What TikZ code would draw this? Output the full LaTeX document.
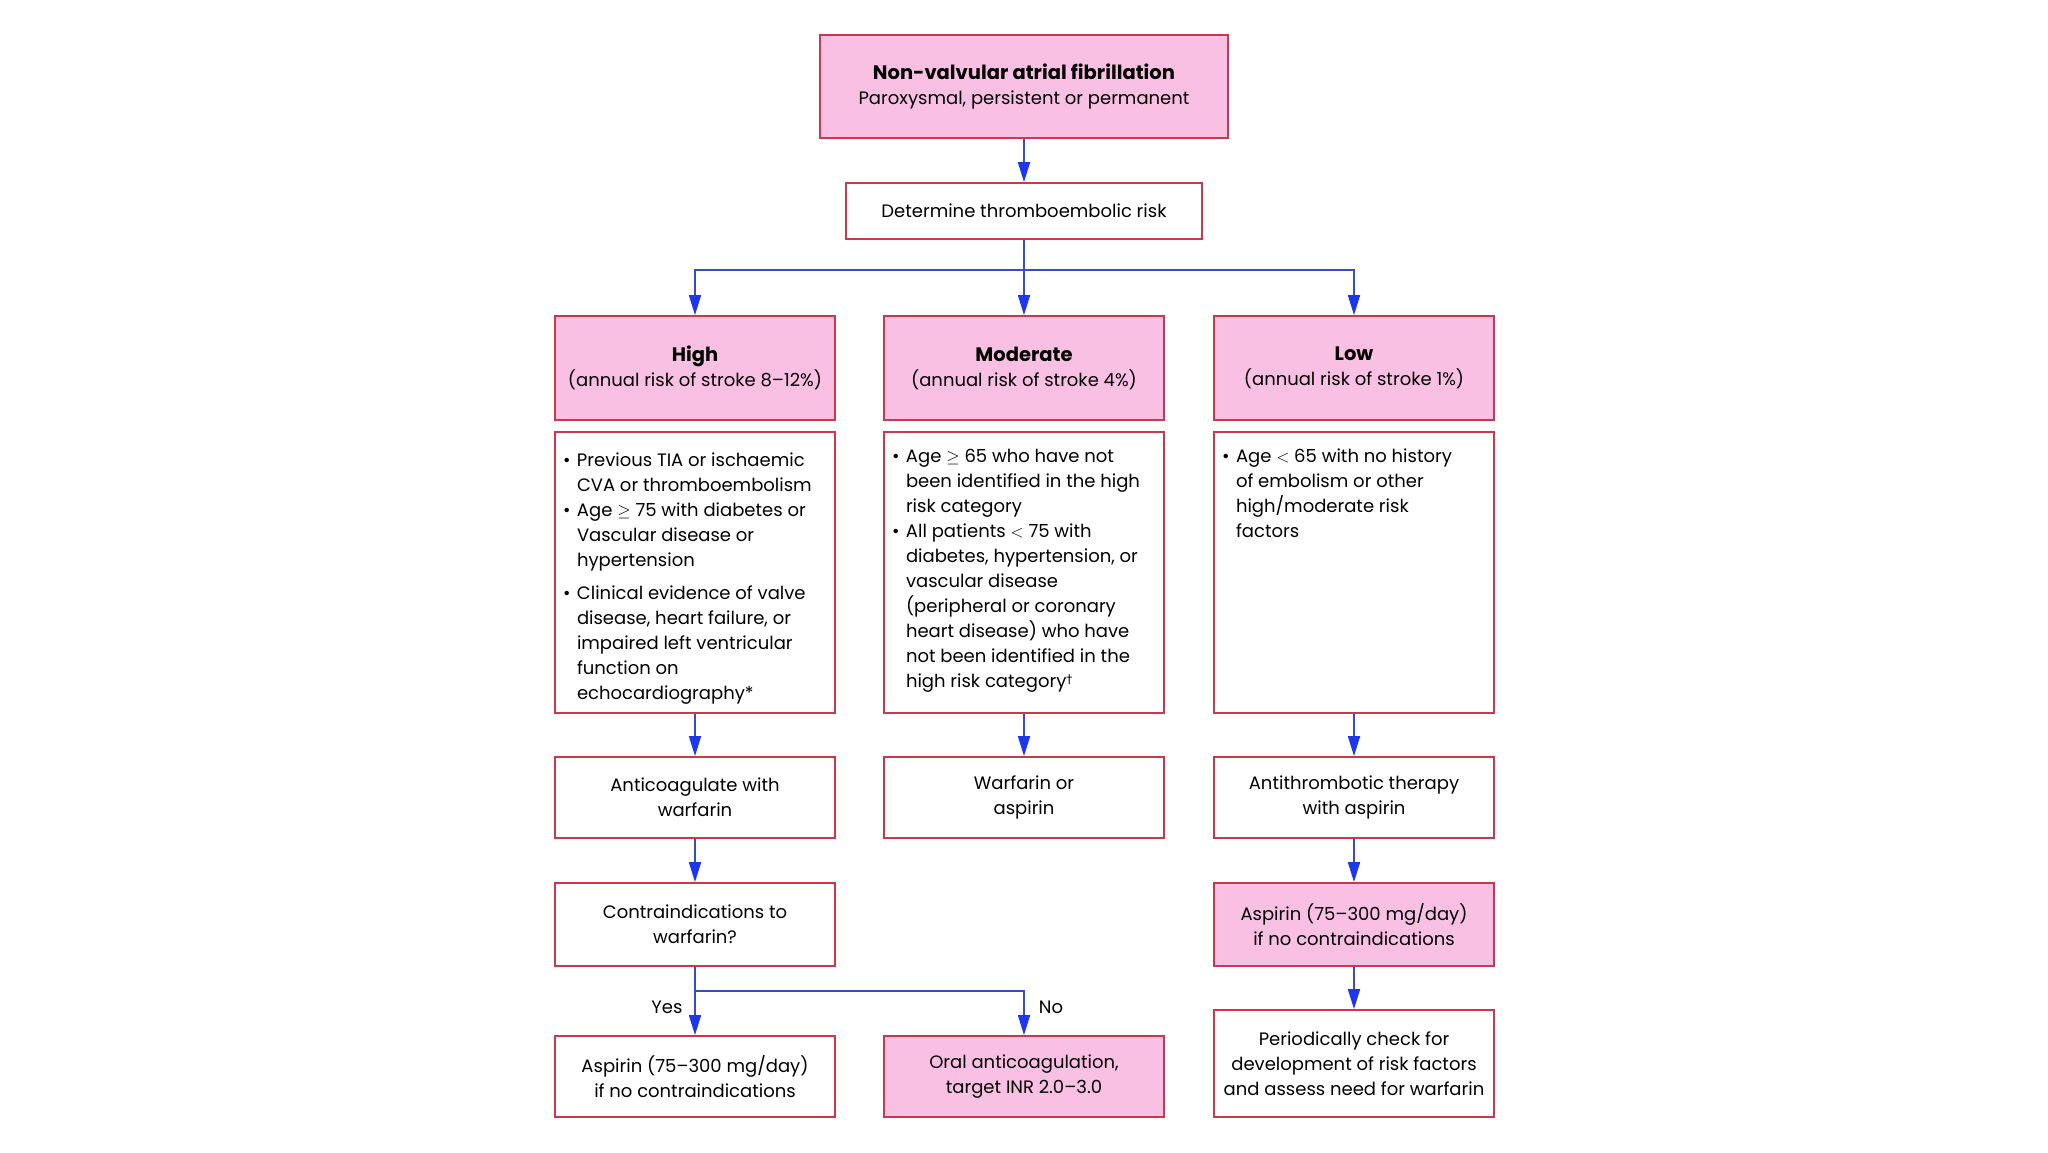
\documentclass[tikz,border=0pt]{standalone}
\usepackage{fontspec}
\setmainfont{Poppins}
\newfontfamily\dejavu{DejaVu Sans}
\usetikzlibrary{arrows.meta}
\definecolor{pinkfill}{RGB}{250,192,228}
\definecolor{bordred}{RGB}{205,55,75}
\definecolor{linblue}{RGB}{55,75,205}
\definecolor{tipblue}{RGB}{30,55,235}
\newcommand{\bitem}[1]{\par\hangindent=14pt\hangafter=1\noindent\makebox[14pt][l]{\textbullet}#1}
\newcommand{\firstline}[1]{\rule{0pt}{#1}}
\newcommand{\dagmark}{\raisebox{4pt}{\dejavu\fontsize{12}{12}\selectfont †}}
\begin{document}
\begin{tikzpicture}[x=1pt,y=-1pt,
  box/.style={draw=bordred,line width=1.8pt,fill=white,rectangle,align=center,inner sep=0pt,font=\fontsize{18}{25}\selectfont},
  pbox/.style={box,fill=pinkfill},
  listbox/.style={box,inner xsep=8pt,inner ysep=8pt},
  arr/.style={draw=linblue,line width=1.8pt,-{Triangle[width=12pt,length=20pt,color=tipblue]}},
  lin/.style={draw=linblue,line width=1.8pt},
  lbl/.style={font=\fontsize{18}{25}\selectfont,inner sep=0pt}]
\useasboundingbox (0,0) rectangle (2048,1152);

\node[pbox,minimum width=408pt,minimum height=103pt] (top) at (1024,86.5)
  {{\fontsize{19.5}{25}\selectfont\bfseries Non-valvular atrial fibrillation}\\Paroxysmal, persistent or permanent};
\node[box,minimum width=356pt,minimum height=56pt] (det) at (1024,211) {Determine thromboembolic risk};

\node[pbox,minimum width=280pt,minimum height=104pt] (high) at (695,368)
  {{\fontsize{19.5}{25}\selectfont\bfseries High}\\(annual risk of stroke 8–12\%)};
\node[pbox,minimum width=280pt,minimum height=104pt] (mod) at (1024,368)
  {{\fontsize{19.5}{25}\selectfont\bfseries Moderate}\\(annual risk of stroke 4\%)};
\node[pbox,minimum width=280pt,minimum height=104pt] (low) at (1354,368)
  {{\fontsize{19.5}{25}\selectfont\bfseries Low}\\(annual risk of stroke 1\%)};

\node[listbox] (hlist) at (695,572.5) {\parbox[c][265pt][t]{264pt}{%
  \bitem{\firstline{26pt}Previous TIA or ischaemic\newline CVA or thromboembolism}
  \bitem{Age $\geq$ 75 with diabetes or\newline Vascular disease or\newline hypertension}
  \par\vspace{8pt}%
  \bitem{Clinical evidence of valve\newline disease, heart failure, or\newline impaired left ventricular\newline function on\newline echocardiography*}\par}};
\node[listbox] (mlist) at (1024,572.5) {\parbox[c][265pt][t]{264pt}{%
  \bitem{\firstline{22pt}Age $\geq$ 65 who have not\newline been identified in the high\newline risk category}
  \bitem{All patients $<$ 75 with\newline diabetes, hypertension, or\newline vascular disease\newline (peripheral or coronary\newline heart disease) who have\newline not been identified in the\newline high risk category\dagmark}\par}};
\node[listbox] (llist) at (1354,572.5) {\parbox[c][265pt][t]{264pt}{%
  \bitem{\firstline{22pt}Age $<$ 65 with no history\newline of embolism or other\newline high/moderate risk\newline factors}\par}};

\node[box,minimum width=280pt,minimum height=81pt] (hrow3) at (695,797.5) {Anticoagulate with\\warfarin};
\node[box,minimum width=280pt,minimum height=81pt] (mrow3) at (1024,797.5) {Warfarin or\\aspirin};
\node[box,minimum width=280pt,minimum height=81pt] (lrow3) at (1354,797.5) {Antithrombotic therapy\\with aspirin};

\node[box,minimum width=280pt,minimum height=83pt] (contra) at (695,924.5) {Contraindications to\\warfarin?};
\node[pbox,minimum width=280pt,minimum height=83pt] (lasp) at (1354,924.5) {Aspirin (75–300 mg/day)\\if no contraindications};

\node[box,minimum width=280pt,minimum height=81pt] (hasp) at (695,1076.5) {Aspirin (75–300 mg/day)\\if no contraindications};
\node[pbox,minimum width=280pt,minimum height=81pt] (oral) at (1024,1076.5) {Oral anticoagulation,\\target INR 2.0–3.0};
\node[box,minimum width=280pt,minimum height=107pt] (check) at (1354,1063.5) {Periodically check for\\development of risk factors\\and assess need for warfarin};

\draw[arr] (top) -- (det);
\coordinate (s1) at (1024,270);
\draw[lin] (det.south) -- (s1);
\draw[arr] (s1) -- (mod.north);
\draw[arr] (s1) -| (high.north);
\draw[arr] (s1) -| (low.north);

\draw[arr] (hlist) -- (hrow3);
\draw[arr] (mlist) -- (mrow3);
\draw[arr] (llist) -- (lrow3);
\draw[arr] (hrow3) -- (contra);
\draw[arr] (lrow3) -- (lasp);
\draw[arr] (lasp) -- (check);

\coordinate (s2) at (695,991);
\draw[arr] (contra) -- (hasp);
\draw[arr] (s2) -| (oral.north);
\node[lbl] (yes) at (667,1007) {Yes};
\node[lbl] (no) at (1051,1007) {No};
\end{tikzpicture}
\end{document}
